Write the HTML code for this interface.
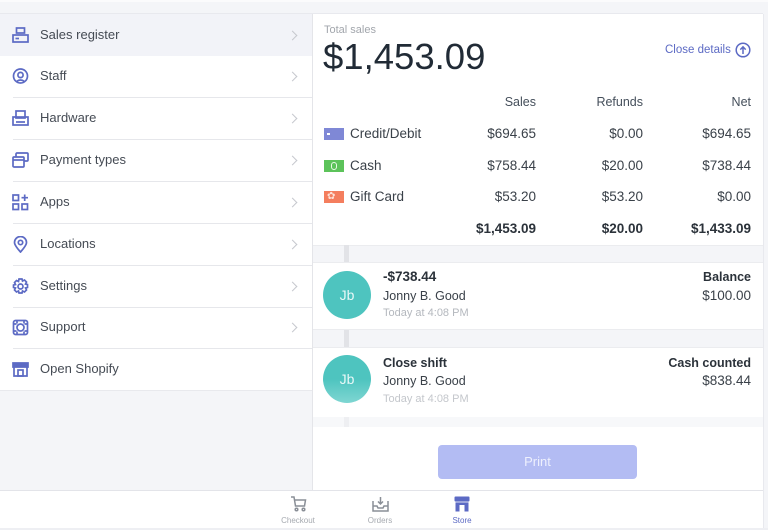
<!DOCTYPE html>
<html><head><meta charset="utf-8">
<style>
*{margin:0;padding:0;box-sizing:border-box}
body{width:768px;height:530px;position:relative;overflow:hidden;background:#f4f5f8;font-family:"Liberation Sans",sans-serif;color:#3d444d}
.a{position:absolute}
.t{position:absolute;white-space:nowrap;line-height:16px}
.r{text-align:right}
.sep{position:absolute;height:1px;background:#e6e7eb}
.chev{position:absolute;left:289px;width:7px;height:7px;border-right:1.3px solid #c6c8ce;border-top:1.3px solid #c6c8ce;transform:rotate(45deg)}
.lbl{position:absolute;left:40px;font-size:13px;color:#454b54;line-height:16px;white-space:nowrap}
.ic{position:absolute;left:12px}
.num{font-size:12.5px;color:#3a4149}
.tv{font-size:13.5px;color:#3a4149}
</style></head><body>

<!-- top strip -->
<div class="a" style="left:0;top:0;width:768px;height:2px;background:#fbfbfc"></div>
<div class="a" style="left:0;top:13px;width:763px;height:1px;background:#e8e9ee"></div>

<!-- sidebar -->
<div class="a" style="left:0;top:14px;width:312px;height:376px;background:#fff"></div>
<div class="a" style="left:0;top:14px;width:312px;height:42px;background:#f2f3f8"></div>
<div class="a" style="left:312px;top:14px;width:1px;height:476px;background:#e4e5e9"></div>
<div class="sep" style="left:13px;top:97px;width:299px"></div>
<div class="sep" style="left:13px;top:139px;width:299px"></div>
<div class="sep" style="left:13px;top:181px;width:299px"></div>
<div class="sep" style="left:13px;top:223px;width:299px"></div>
<div class="sep" style="left:13px;top:265px;width:299px"></div>
<div class="sep" style="left:13px;top:307px;width:299px"></div>
<div class="sep" style="left:13px;top:348px;width:299px"></div>
<div class="sep" style="left:0;top:390px;width:312px;background:#e8e9ed"></div>

<div class="lbl" style="top:27px">Sales register</div>
<div class="lbl" style="top:68px">Staff</div>
<div class="lbl" style="top:110px">Hardware</div>
<div class="lbl" style="top:152px">Payment types</div>
<div class="lbl" style="top:194px">Apps</div>
<div class="lbl" style="top:236px">Locations</div>
<div class="lbl" style="top:278px">Settings</div>
<div class="lbl" style="top:319px">Support</div>
<div class="lbl" style="top:361px">Open Shopify</div>

<div class="chev" style="top:32px"></div>
<div class="chev" style="top:73px"></div>
<div class="chev" style="top:115px"></div>
<div class="chev" style="top:157px"></div>
<div class="chev" style="top:199px"></div>
<div class="chev" style="top:241px"></div>
<div class="chev" style="top:283px"></div>
<div class="chev" style="top:324px"></div>

<!-- sidebar icons -->
<svg class="ic" style="top:27px" width="17" height="17" viewBox="0 0 17 17" fill="none" stroke="#5c6ac4" stroke-width="1.7"><rect x="4.5" y="1" width="8" height="5"/><rect x="1" y="8" width="15" height="7"/><line x1="3.5" y1="11.5" x2="7" y2="11.5"/></svg>
<svg class="ic" style="top:68px" width="17" height="17" viewBox="0 0 17 17" fill="none" stroke="#5c6ac4" stroke-width="1.7"><circle cx="8.5" cy="8" r="7"/><circle cx="8.5" cy="7" r="2.6"/><path d="M4.5 13.5 Q8.5 10.5 12.5 13.5"/></svg>
<svg class="ic" style="top:110px" width="17" height="17" viewBox="0 0 17 17" fill="none" stroke="#5c6ac4" stroke-width="1.7"><rect x="4" y="1" width="9" height="7"/><rect x="1" y="7" width="15" height="8"/><line x1="4" y1="12" x2="13" y2="12"/></svg>
<svg class="ic" style="top:152px" width="17" height="17" viewBox="0 0 17 17" fill="none" stroke="#5c6ac4" stroke-width="1.7"><rect x="4" y="1" width="12" height="8" rx="1"/><rect x="1" y="5" width="11" height="10" rx="1" fill="#fff"/><line x1="1" y1="8" x2="12" y2="8"/></svg>
<svg class="ic" style="top:194px" width="17" height="17" viewBox="0 0 17 17" fill="none" stroke="#5c6ac4" stroke-width="1.7"><rect x="1" y="1" width="5.5" height="5.5"/><rect x="1" y="10" width="5.5" height="5.5"/><rect x="10" y="10" width="5.5" height="5.5"/><path d="M12.7 0.5v6.5M9.5 3.7h6.5"/></svg>
<svg class="ic" style="top:236px" width="17" height="17" viewBox="0 0 17 17" fill="none" stroke="#5c6ac4" stroke-width="1.7"><path d="M8.5 16 C4 11 2.5 8.5 2.5 6.5 A6 6 0 0 1 14.5 6.5 C14.5 8.5 13 11 8.5 16Z"/><circle cx="8.5" cy="6.5" r="2.2"/></svg>
<svg class="ic" style="top:278px" width="17" height="17" viewBox="0 0 17 17" fill="none" stroke="#5c6ac4" stroke-width="1.7"><circle cx="8.5" cy="8.5" r="2.5"/><path d="M7 1h3l.5 2 2-1 2 2-1 2 2 .5v3l-2 .5 1 2-2 2-2-1-.5 2H7l-.5-2-2 1-2-2 1-2-2-.5V7l2-.5-1-2 2-2 2 1z"/></svg>
<svg class="ic" style="top:319px" width="17" height="17" viewBox="0 0 17 17" fill="none" stroke="#5c6ac4" stroke-width="1.7"><rect x="1.5" y="1.5" width="14" height="14" rx="2"/><circle cx="8.5" cy="8.5" r="3.5"/><path d="M1.5 5h3M12.5 5h3M1.5 12h3M12.5 12h3M5 1.5v3M12 1.5v3M5 12.5v3M12 12.5v3"/></svg>
<svg class="ic" style="top:361px" width="17" height="17" viewBox="0 0 17 17" fill="none" stroke="#5c6ac4" stroke-width="1.7"><path d="M1 2h15v4H1z" fill="#5c6ac4"/><path d="M2 6v9h13V6"/><rect x="6" y="9" width="5" height="6"/></svg>

<!-- right summary card -->
<div class="a" style="left:313px;top:14px;width:450px;height:231px;background:#fff"></div>
<div class="t" style="left:324px;top:22px;font-size:11px;color:#a2a6ac">Total sales</div>
<div class="t" style="left:323px;top:36px;font-size:36.5px;line-height:42px;color:#212b36">$1,453.09</div>
<div class="t" style="left:665px;top:42px;font-size:11.5px;color:#5c6ac4">Close details</div>
<svg class="a" style="left:735px;top:42px" width="16" height="16" viewBox="0 0 16 16" fill="none" stroke="#5c6ac4" stroke-width="1.5"><circle cx="8" cy="8" r="6.8"/><path d="M8 12V5M5.3 7.6 8 4.8l2.7 2.8"/></svg>

<div class="t num r" style="left:436px;width:100px;top:94px;color:#454f5b">Sales</div>
<div class="t num r" style="left:543px;width:100px;top:94px;color:#454f5b">Refunds</div>
<div class="t num r" style="left:651px;width:100px;top:94px;color:#454f5b">Net</div>

<div class="a" style="left:324px;top:128px;width:20px;height:12px;background:#7f88d6"></div>
<div class="a" style="left:327px;top:133px;width:3px;height:1.5px;background:#fff"></div>
<div class="a" style="left:324px;top:160px;width:20px;height:12px;background:#5cc35a"></div>
<div class="a" style="left:331px;top:162px;width:6px;height:8px;border:1px solid #e8f8e6;border-radius:3px"></div>
<div class="a" style="left:324px;top:191px;width:20px;height:12px;background:#f47e5e"></div>
<div class="t" style="left:327px;top:189px;font-size:10px;color:#fde2d8">✿</div>

<div class="t tv" style="left:350px;top:126px">Credit/Debit</div>
<div class="t tv" style="left:350px;top:158px">Cash</div>
<div class="t tv" style="left:350px;top:189px">Gift Card</div>

<div class="t tv r" style="left:436px;width:100px;top:126px">$694.65</div>
<div class="t tv r" style="left:543px;width:100px;top:126px">$0.00</div>
<div class="t tv r" style="left:651px;width:100px;top:126px">$694.65</div>
<div class="t tv r" style="left:436px;width:100px;top:158px">$758.44</div>
<div class="t tv r" style="left:543px;width:100px;top:158px">$20.00</div>
<div class="t tv r" style="left:651px;width:100px;top:158px">$738.44</div>
<div class="t tv r" style="left:436px;width:100px;top:189px">$53.20</div>
<div class="t tv r" style="left:543px;width:100px;top:189px">$53.20</div>
<div class="t tv r" style="left:651px;width:100px;top:189px">$0.00</div>
<div class="t tv r" style="left:426px;width:110px;top:221px;font-weight:bold;color:#2b323a">$1,453.09</div>
<div class="t tv r" style="left:543px;width:100px;top:221px;font-weight:bold;color:#2b323a">$20.00</div>
<div class="t tv r" style="left:641px;width:110px;top:221px;font-weight:bold;color:#2b323a">$1,433.09</div>

<!-- gaps / timeline -->
<div class="a" style="left:313px;top:245px;width:450px;height:1px;background:#ebecef"></div>
<div class="a" style="left:344px;top:245px;width:5px;height:17px;background:#e2e3e7"></div>
<div class="a" style="left:344px;top:330px;width:5px;height:17px;background:#e2e3e7"></div>

<!-- card 1 -->
<div class="a" style="left:313px;top:262px;width:450px;height:68px;background:#fff;border-top:1px solid #ebecef;border-bottom:1px solid #ebecef"></div>
<div class="a" style="left:323px;top:271px;width:48px;height:48px;border-radius:50%;background:#4ec4bf"></div>
<div class="t" style="left:323px;width:48px;text-align:center;top:287px;font-size:14px;color:#e8f8f7">Jb</div>
<div class="t" style="left:383px;top:269px;font-size:13.5px;font-weight:bold;color:#2b323a">-$738.44</div>
<div class="t num" style="left:383px;top:288px">Jonny B. Good</div>
<div class="t" style="left:383px;top:305px;font-size:11px;color:#b4b8be">Today at 4:08 PM</div>
<div class="t num r" style="left:631px;width:120px;top:269px;font-weight:bold;color:#2b323a">Balance</div>
<div class="t tv r" style="left:631px;width:120px;top:288px">$100.00</div>

<!-- card 2 -->
<div class="a" style="left:313px;top:347px;width:450px;height:68px;background:#fff;border-top:1px solid #ebecef"></div>
<div class="a" style="left:323px;top:355px;width:48px;height:48px;border-radius:50%;background:linear-gradient(#4ec4bf 0%,#4ec4bf 50%,#7fd6d2 100%)"></div>
<div class="t" style="left:323px;width:48px;text-align:center;top:371px;font-size:14px;color:#e8f8f7">Jb</div>
<div class="t num" style="left:383px;top:355px;font-weight:bold;color:#2b323a">Close shift</div>
<div class="t num" style="left:383px;top:373px">Jonny B. Good</div>
<div class="t" style="left:383px;top:391px;font-size:11px;color:#c4c7cc">Today at 4:08 PM</div>
<div class="t num r" style="left:611px;width:140px;top:355px;font-weight:bold;color:#2b323a">Cash counted</div>
<div class="t tv r" style="left:631px;width:120px;top:373px">$838.44</div>

<!-- lower area -->
<div class="a" style="left:313px;top:415px;width:450px;height:75px;background:#fff"></div>
<div class="a" style="left:313px;top:417px;width:450px;height:10px;background:#f7f8fa"></div>
<div class="a" style="left:344px;top:417px;width:5px;height:10px;background:#eeeff2"></div>
<div class="a" style="left:438px;top:445px;width:199px;height:34px;border-radius:4px;background:#b3bcf3"></div>
<div class="t" style="left:438px;width:199px;text-align:center;top:454px;font-size:13px;color:#eef0fd">Print</div>

<!-- bottom tab bar -->
<div class="a" style="left:0;top:490px;width:763px;height:38px;background:#fff;border-top:1px solid #e3e4e9"></div>
<div class="a" style="left:763px;top:14px;width:1px;height:514px;background:#e8e9ee"></div>
<div class="a" style="left:0;top:528px;width:768px;height:2px;background:#eeeff3"></div>

<svg class="a" style="left:290px;top:496px" width="17" height="16" viewBox="0 0 17 16" fill="none" stroke="#8a8f97" stroke-width="1.5"><path d="M1 1h3l1.5 9h9l1-6H5"/><circle cx="6.5" cy="13.5" r="1.3"/><circle cx="13.5" cy="13.5" r="1.3"/></svg>
<div class="t" style="left:268px;width:60px;text-align:center;top:513px;font-size:8px;color:#a6aab0">Checkout</div>
<svg class="a" style="left:372px;top:496px" width="17" height="16" viewBox="0 0 17 16" fill="none" stroke="#8a8f97" stroke-width="1.5"><path d="M1 5v10h15V5"/><path d="M1 10h4l1 2h5l1-2h4"/><path d="M8.5 1v7M6 5.5l2.5 2.5 2.5-2.5"/></svg>
<div class="t" style="left:350px;width:60px;text-align:center;top:513px;font-size:8px;color:#a6aab0">Orders</div>
<svg class="a" style="left:454px;top:496px" width="16" height="16" viewBox="0 0 16 16"><rect x="0.5" y="0.5" width="15" height="5" rx="1" fill="#5c6ac4"/><rect x="1.5" y="5" width="13" height="10.5" fill="#5c6ac4"/><rect x="5.5" y="9" width="5" height="6.5" fill="#fff"/><line x1="1" y1="6" x2="15" y2="6" stroke="#fff" stroke-width="0.8"/></svg>
<div class="t" style="left:432px;width:60px;text-align:center;top:513px;font-size:8px;color:#5c6ac4">Store</div>

</body></html>
